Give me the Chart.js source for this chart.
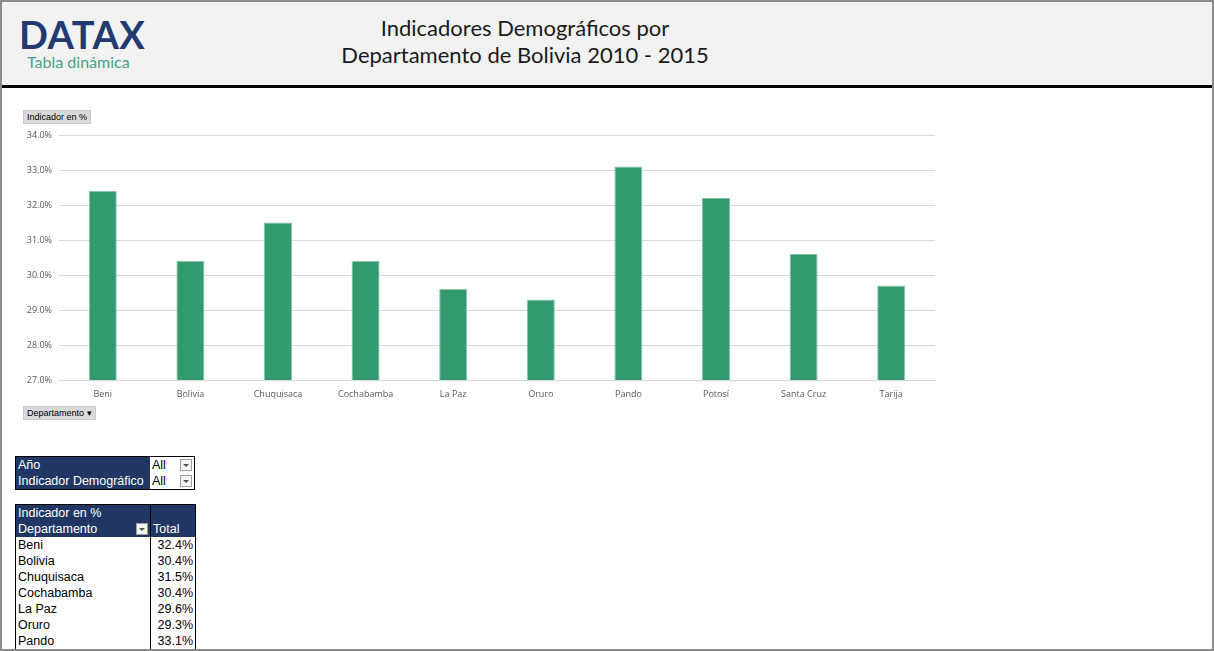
<!DOCTYPE html>
<html>
<head>
<meta charset="utf-8">
<script src="https://cdn.jsdelivr.net/npm/chart.js@4.4.0/dist/chart.umd.min.js"></script>
<style>
  html, body { margin: 0; padding: 0; background: #fff; }
  #frame { position: relative; width: 1210px; height: 647px; border: 2px solid #8c8c8c; overflow: hidden; background: #fff; }
  #header { position: absolute; left: 0; top: 0; width: 1210px; height: 83px; background: #f2f2f2; border-bottom: 3px solid #000; }
  #logo { position: absolute; left: 17px; top: 9px; font-family: "Lato", "Open Sans", sans-serif; font-weight: 700; font-size: 38px; color: #223a6f; letter-spacing: 0.5px; }
  #sub { position: absolute; left: 25px; top: 50px; font-family: "Lato", sans-serif; font-size: 16px; color: #47a283; }
  #title { position: absolute; left: 298px; width: 450px; top: 12px; text-align: center; font-family: "Lato", "Open Sans", sans-serif; font-size: 22px; line-height: 27px; color: #1a1a1a; }
  #chartBox { position: absolute; left: 0; top: 118px; width: 960px; height: 292px; }
  .btn { position: absolute; background: #d9d9d9; border: 1px solid #c8c8c8; font-family: "Liberation Sans", Arial, sans-serif; font-size: 9px; color: #000; padding: 1px 3px; line-height: 10px; }
  table { position: absolute; border-collapse: collapse; font-family: "Liberation Sans", Arial, sans-serif; font-size: 12.5px; }
  td { height: 16px; padding: 0 2px; line-height: 16px; white-space: nowrap; }
  .navy { background: #203764; color: #fff; }
  .dd { display: inline-block; width: 10px; height: 10px; border: 1px solid #a0a0a0; background: #f4f4f4; vertical-align: middle; position: relative; float: right; margin-top: 2px; }
  .dd:after { content: ""; position: absolute; left: 2px; top: 4px; border-left: 3px solid transparent; border-right: 3px solid transparent; border-top: 3px solid #555; }
</style>
</head>
<body>
<div id="frame">
  <div id="header">
    <div id="logo">DATAX</div>
    <div id="sub">Tabla dinámica</div>
    <div id="title">Indicadores Demográficos por<br>Departamento de Bolivia 2010 - 2015</div>
  </div>
  <div class="btn" style="left:21px; top:108px;">Indicador en %</div>
  <div id="chartBox"><canvas id="c"></canvas></div>
  <div class="btn" style="left:21px; top:404px;">Departamento &#9662;</div>

  <table id="filters" style="left:13px; top:454px; border:1px solid #000;">
    <tr><td class="navy" style="width:130px;">Año</td><td style="width:40px;">All <span class="dd"></span></td></tr>
    <tr><td class="navy">Indicador Demográfico</td><td>All <span class="dd"></span></td></tr>
  </table>

  <table id="pivot" style="left:13px; top:502px; border:1px solid #000;"></table>
</div>
<script>
const departamentos = ["Beni", "Bolivia", "Chuquisaca", "Cochabamba", "La Paz", "Oruro", "Pando", "Potosí", "Santa Cruz", "Tarija"];
const indicadorPct = [32.4, 30.4, 31.5, 30.4, 29.6, 29.3, 33.1, 32.2, 30.6, 29.7];
const yTicks = [27, 28, 29, 30, 31, 32, 33, 34];

// pivot table from data
const pv = document.getElementById('pivot');
let html = '<tr><td class="navy" style="width:130px;">Indicador en %</td><td class="navy" style="width:40px;border-left:1px solid #000;"></td></tr>';
html += '<tr><td class="navy">Departamento <span class="dd" style="background:#f4f4f4"></span></td><td class="navy" style="border-left:1px solid #000;">Total</td></tr>';
departamentos.forEach((d, i) => {
  html += '<tr><td>' + d + '</td><td style="text-align:right;border-left:1px solid #000;">' + indicadorPct[i].toFixed(1) + '%</td></tr>';
});
pv.innerHTML = html;

new Chart(document.getElementById('c'), {
  type: 'bar',
  data: {
    labels: departamentos,
    datasets: [{
      data: indicadorPct,
      backgroundColor: '#339a6e',
      borderColor: '#86c7aa',
      borderWidth: 1,
      barPercentage: 0.32,
      categoryPercentage: 1.0
    }]
  },
  options: {
    responsive: true,
    maintainAspectRatio: false,
    animation: false,
    layout: { padding: { top: 15, right: 27, left: 0, bottom: 0 } },
    plugins: { legend: { display: false }, tooltip: { enabled: false } },
    scales: {
      y: {
        min: 27, max: 34,
        afterBuildTicks: (ax) => { ax.ticks = yTicks.map(v => ({ value: v })); },
        afterFit: (ax) => { ax.width = 57; },
        grid: { color: '#d9d9d9', lineWidth: 1, drawTicks: false },
        border: { display: false },
        ticks: {
          padding: 7,
          color: '#595959',
          font: { family: 'Open Sans', size: 9 },
          callback: (v) => v.toFixed(1) + '%'
        }
      },
      x: {
        afterFit: (ax) => { ax.height = 32; },
        grid: { display: false },
        border: { display: true, color: '#d9d9d9', width: 1 },
        ticks: {
          padding: 1,
          color: '#595959',
          font: { family: 'Open Sans', size: 9 },
          maxRotation: 0, autoSkip: false
        }
      }
    }
  }
});
</script>
</body>
</html>
